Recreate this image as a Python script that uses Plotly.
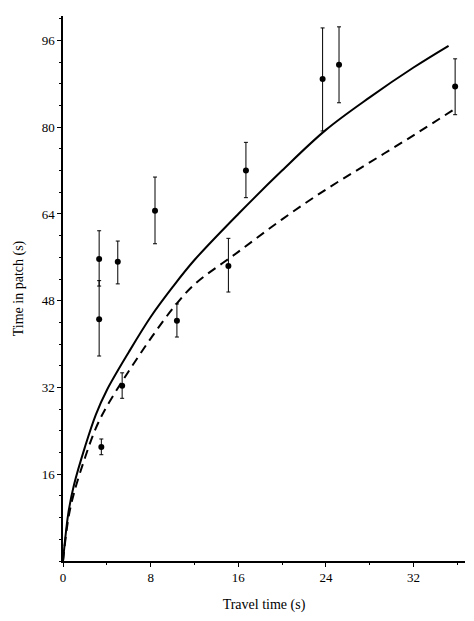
import plotly.graph_objects as go

# observed points: travel time (s), time in patch (s), error bar extents
obs_x = [3.3, 3.3, 3.5, 5.0, 5.4, 8.4, 10.4, 15.1, 16.7, 23.7, 25.2, 35.8]
obs_y = [55.7, 44.6, 21.0, 55.2, 32.3, 64.6, 44.3, 54.4, 72.0, 88.9, 91.5, 87.5]
err_hi = [60.9, 51.7, 22.5, 59.0, 34.7, 70.8, 47.4, 59.5, 77.2, 98.3, 98.5, 92.6]
err_lo = [50.7, 37.8, 19.6, 51.1, 30.0, 58.5, 41.3, 49.6, 67.0, 79.3, 84.5, 82.3]

# predicted curves
solid_x = [0, 0.5, 1, 2, 3, 4, 6, 8, 10, 12, 16, 20, 24, 28, 32, 35.2]
solid_y = [0, 9, 14, 21, 27, 31.5, 38.5, 45, 50.5, 55.5, 64, 72, 79.5, 85.5, 91, 95]
dash_x = [0, 0.5, 1, 2, 3, 4, 6, 8, 10, 12, 16, 20, 24, 28, 32, 35.8]
dash_y = [0, 8, 12.5, 19, 24.5, 28.5, 35, 41, 46.5, 51, 57, 63, 68.5, 73.5, 78.5, 83.4]

fig = go.Figure()
fig.add_trace(go.Scatter(x=solid_x, y=solid_y, mode="lines", line=dict(color="black", width=2), line_shape="spline"))
fig.add_trace(go.Scatter(x=dash_x, y=dash_y, mode="lines", line=dict(color="black", width=2, dash="9px,6px"), line_shape="spline"))
fig.add_trace(go.Scatter(
    x=obs_x, y=obs_y, mode="markers",
    marker=dict(color="black", size=6),
    error_y=dict(type="data", symmetric=False,
                 array=[h - y for h, y in zip(err_hi, obs_y)],
                 arrayminus=[y - l for l, y in zip(err_lo, obs_y)],
                 color="black", thickness=1, width=2),
))

axis_common = dict(showgrid=False, zeroline=False, showline=True, linecolor="black", linewidth=1.5,
                   ticks="outside", tickcolor="black", ticklen=4,
                   tickfont=dict(family="Liberation Serif", size=13, color="black"),
                   title_font=dict(family="Liberation Serif", size=14, color="black"))
fig.update_xaxes(range=[0, 36.7], tickvals=[0, 8, 16, 24, 32], title_text="Travel time (s)",
                 minor=dict(dtick=4, ticks="outside", ticklen=2, tickcolor="black"), **axis_common)
fig.update_yaxes(range=[0, 100.5], tickvals=[16, 32, 48, 64, 80, 96], title_text="Time in patch (s)",
                 minor=dict(dtick=4, ticks="outside", ticklen=2, tickcolor="black"), **axis_common)
fig.update_layout(width=474, height=621, showlegend=False, plot_bgcolor="white", paper_bgcolor="white",
                  margin=dict(l=55, r=17, t=8, b=68))
fig.write_html("out.html")
